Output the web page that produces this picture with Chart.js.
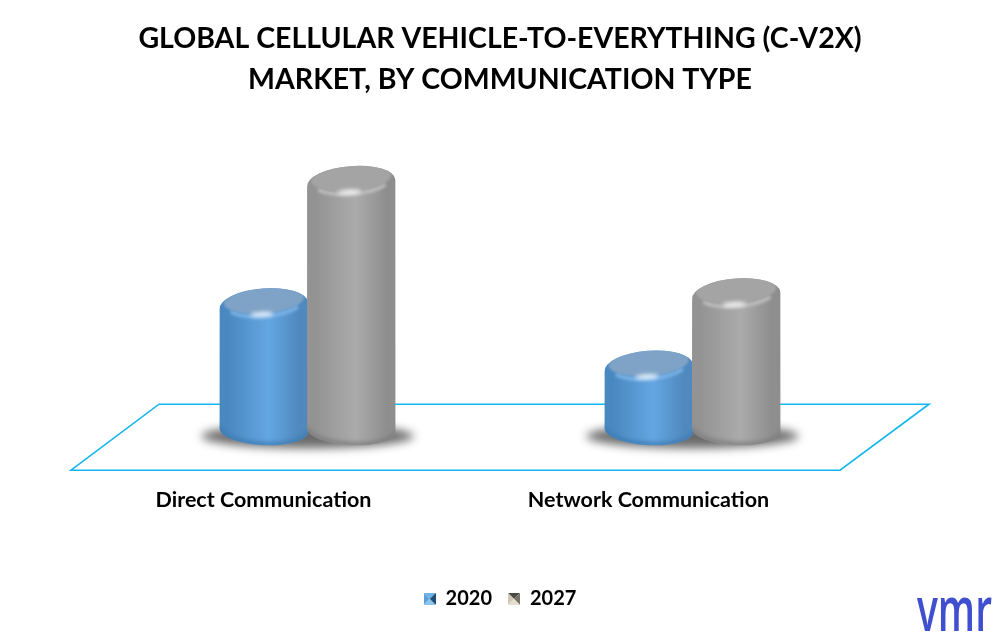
<!DOCTYPE html>
<html>
<head>
<meta charset="utf-8">
<title>C-V2X Market</title>
<script src="https://cdn.jsdelivr.net/npm/chart.js@4/dist/chart.umd.min.js"></script>
<style>
  html, body { margin: 0; padding: 0; background: #fff; }
  canvas { display: block; }
</style>
</head>
<body>
<canvas id="c2xChart" width="999" height="633"></canvas>
<script>
const categories = ['Direct Communication', 'Network Communication'];
const seriesNames = ['2020', '2027'];
const values2020 = [5.0, 2.5];
const values2027 = [9.9, 5.4];
const titleLines = ['GLOBAL CELLULAR VEHICLE-TO-EVERYTHING (C-V2X)', 'MARKET, BY COMMUNICATION TYPE'];

const FONT = 'Lato, Carlito, sans-serif';

// little bevelled squares used as legend markers
function makeMarker(top, left, right, bottom) {
  const s = 12;
  const m = document.createElement('canvas');
  m.width = s; m.height = s;
  const g = m.getContext('2d');
  const tri = (x1, y1, x2, y2, col) => {
    g.fillStyle = col;
    g.beginPath();
    g.moveTo(x1, y1);
    g.lineTo(x2, y2);
    g.lineTo(s / 2, s / 2);
    g.closePath();
    g.fill();
  };
  tri(0, 0, s, 0, top);
  tri(0, 0, 0, s, left);
  tri(s, 0, s, s, right);
  tri(0, s, s, s, bottom);
  return m;
}
const marker2020 = makeMarker('#6fb4e6', '#5a9fd8', '#1d4e78', '#8cc4ec');
const marker2027 = makeMarker('#4d4a42', '#cfc8b6', '#77736a', '#e4dece');

const palette = [
  { edge: '#4a88c0', mid: '#64a6e3', edgeR: '#4f89bd', face: '#7fa3c7', rim: '#79b2e6', low: '#3f7bb2' },
  { edge: '#939393', mid: '#ababab', edgeR: '#8e8e8e', face: '#a4a4a4', rim: '#bcbcbc', low: '#7d7d7d' }
];

const floorPlane = {
  id: 'floorPlane',
  beforeDatasetsDraw(chart) {
    const { ctx, chartArea: a } = chart;
    const top = a.bottom - 26, bot = a.bottom + 40;
    ctx.save();
    ctx.strokeStyle = '#12b5ee';
    ctx.lineWidth = 1.6;
    ctx.beginPath();
    ctx.moveTo(a.left + 44, top);
    ctx.lineTo(a.right + 44, top);
    ctx.lineTo(a.right - 45, bot);
    ctx.lineTo(a.left - 44, bot);
    ctx.closePath();
    ctx.stroke();

    // soft shadows under each pair of cylinders
    const m0 = chart.getDatasetMeta(0).data, m1 = chart.getDatasetMeta(1).data;
    ctx.filter = 'blur(5px)';
    ctx.fillStyle = 'rgba(70,70,70,0.8)';
    m0.forEach((b, i) => {
      const cx = (b.x + m1[i].x) / 2;
      ctx.beginPath();
      ctx.ellipse(cx, b.base + 6, 106, 12, 0, 0, Math.PI * 2);
      ctx.fill();
    });
    ctx.restore();
  }
};

const TILT = -0.08;

function silhouette(ctx, cx, rx, yTop, yBase, ryT, ryB) {
  ctx.beginPath();
  ctx.ellipse(cx, yTop, rx, ryT, TILT, Math.PI, Math.PI * 2);
  ctx.ellipse(cx, yBase, rx, ryB, 0.05, 0, Math.PI);
  ctx.closePath();
}

const cylinders = {
  id: 'cylinders',
  afterDatasetsDraw(chart) {
    const { ctx } = chart;
    const ryT = 17, ryB = 15;
    const n = chart.data.labels.length;
    for (let i = 0; i < n; i++) {
      [0, 1].forEach(ds => {
        const bar = chart.getDatasetMeta(ds).data[i];
        const col = palette[ds];
        const cx = bar.x, rx = bar.width / 2 + 0.5, y = bar.y, base = bar.base;

        ctx.save();
        silhouette(ctx, cx, rx, y, base, ryT, ryB);
        ctx.clip();

        const g = ctx.createLinearGradient(cx - rx, 0, cx + rx, 0);
        g.addColorStop(0, col.edge);
        g.addColorStop(0.1, col.edge);
        g.addColorStop(0.55, col.mid);
        g.addColorStop(0.9, col.edgeR);
        g.addColorStop(1, col.edgeR);
        ctx.fillStyle = g;
        ctx.fillRect(cx - rx - 1, y - ryT - 5, rx * 2 + 2, base - y + ryT + ryB + 10);

        // dark lower rim
        ctx.filter = 'blur(2px)';
        ctx.strokeStyle = col.low;
        ctx.lineWidth = 4;
        ctx.beginPath();
        ctx.ellipse(cx, base - 1, rx, ryB, 0.05, 0, Math.PI);
        ctx.stroke();

        // lit band under the top face, front part only
        ctx.filter = 'blur(1.5px)';
        ctx.lineWidth = 4;
        ctx.strokeStyle = col.rim;
        ctx.beginPath();
        ctx.ellipse(cx, y - 3, rx - 6, ryT - 3, TILT, 0.5, Math.PI - 0.5);
        ctx.stroke();

        // top face, nearly flush with the back of the silhouette
        ctx.filter = 'blur(1.2px)';
        ctx.fillStyle = col.face;
        ctx.beginPath();
        ctx.ellipse(cx, y - 5, rx - 4, ryT - 4, TILT, 0, Math.PI * 2);
        ctx.fill();

        // specular spot
        ctx.filter = 'blur(2px)';
        ctx.fillStyle = 'rgba(255,255,255,0.95)';
        ctx.beginPath();
        ctx.ellipse(cx - 2, y + 9, 12, 2.2, -0.05, 0, Math.PI * 2);
        ctx.fill();
        ctx.restore();
      });
    }
  }
};

const logo = {
  id: 'logo',
  afterDraw(chart) {
    const { ctx } = chart;
    ctx.save();
    ctx.fillStyle = '#3f4fcf';
    ctx.textBaseline = 'alphabetic';
    ctx.font = '600 62px "Open Sans"';
    ctx.translate(917, 631);
    ctx.scale(0.63, 1);
    ctx.fillText('vmr', 0, 0);
    ctx.restore();
  }
};

new Chart(document.getElementById('c2xChart'), {
  type: 'bar',
  data: {
    labels: categories,
    datasets: [
      { label: seriesNames[0], data: values2020, backgroundColor: '#5b9bd5', borderRadius: 8, pointStyle: marker2020 },
      { label: seriesNames[1], data: values2027, backgroundColor: '#a5a5a5', borderRadius: 8, pointStyle: marker2027 }
    ]
  },
  plugins: [floorPlane, cylinders, logo],
  options: {
    responsive: false,
    animation: false,
    categoryPercentage: 0.4545,
    barPercentage: 1,
    layout: { padding: { left: 115, right: 114, top: 18, bottom: 14 } },
    plugins: {
      tooltip: { enabled: false },
      title: {
        display: true,
        text: titleLines,
        color: '#000',
        font: { family: FONT, size: 28.5, weight: 'bold', lineHeight: 1.45 },
        padding: { top: 0, bottom: 30 }
      },
      legend: {
        position: 'bottom',
        labels: {
          usePointStyle: true,
          boxWidth: 12,
          boxHeight: 12,
          padding: 16,
          color: '#000',
          font: { family: FONT, size: 20, weight: 'bold' }
        }
      }
    },
    scales: {
      x: {
        grid: { display: false },
        border: { display: false },
        afterFit(scale) { scale.height += 11; },
        ticks: {
          padding: 49,
          labelOffset: -44,
          color: '#000',
          maxRotation: 0,
          font: { family: FONT, size: 21.5, weight: 'bold' }
        }
      },
      y: { display: false, min: 0, max: 12 }
    }
  }
});
</script>
</body>
</html>
